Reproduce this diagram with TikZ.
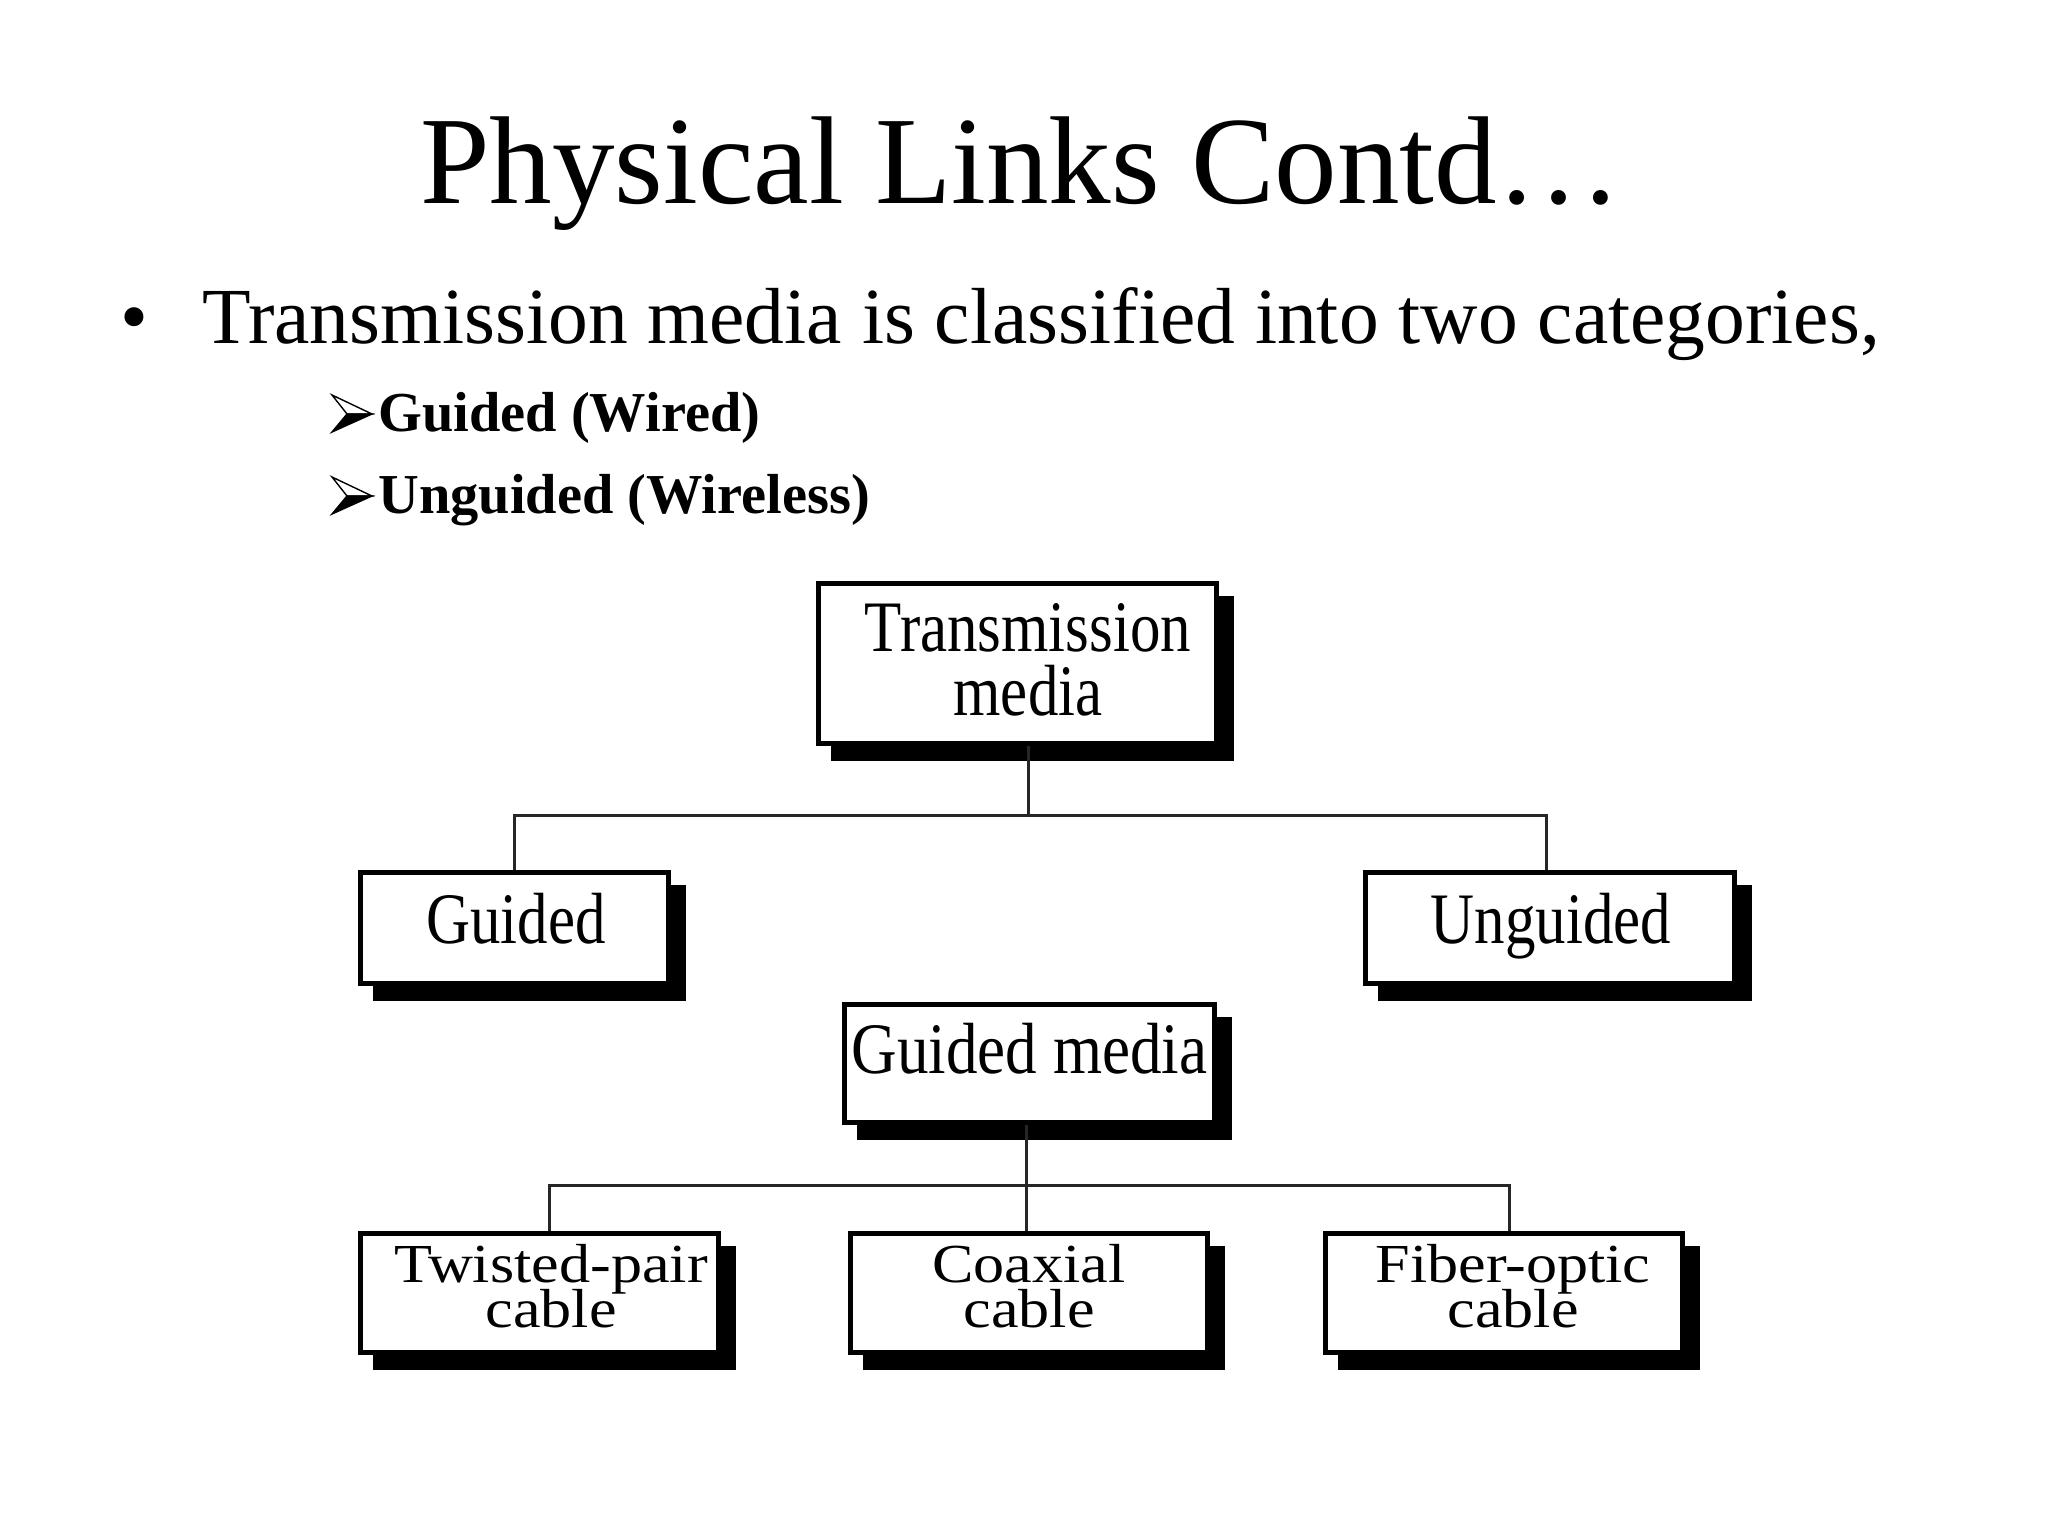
\documentclass[tikz,border=0pt]{standalone}
\usepackage{fontspec}
\setmainfont{Liberation Serif}
\newfontfamily\boxA[FakeStretch=0.84]{Liberation Serif}
\newfontfamily\boxG[FakeStretch=0.87]{Liberation Serif}
\newfontfamily\boxB[FakeStretch=1.13]{Liberation Serif}
\usetikzlibrary{shadows}
\begin{document}
\lineskiplimit=-1000pt\relax
\lineskip=0pt\relax
\begin{tikzpicture}[x=0.5pt,y=-0.5pt,
  box/.style={draw=black, fill=white, line width=2.7pt, inner sep=0pt,
    general shadow={fill=black, draw=black, line width=2.7pt, shadow xshift=7.5pt, shadow yshift=-7.5pt}},
  conn/.style={line width=1.5pt, draw=black!85},
  lbl/.style={inner sep=0pt, align=center},
  topfont/.style={font=\boxA\fontsize{36.25pt}{32pt}\selectfont},
  botfont/.style={font=\boxB\fontsize{27.5pt}{22.5pt}\selectfont},
  arrowup/.style={fill=white, draw=black, line width=0.7pt, line join=miter},
  arrowdn/.style={fill=black, draw=black, line width=0.7pt, line join=miter}]
\path[use as bounding box, fill=white] (0,0) rectangle (2048,1536);

% title and bullets
\node[inner sep=0pt, anchor=base, font=\fontsize{62.5pt}{70pt}\selectfont] (title) at (1021,203) {Physical Links Contd\ldots};
\node[inner sep=0pt, anchor=base west, font=\fontsize{39.75pt}{44pt}\selectfont] (dot) at (120,343) {\textbullet};
\node[inner sep=0pt, anchor=base west, font=\fontsize{39.75pt}{44pt}\selectfont] (intro) at (202,343) {Transmission media is classified into two categories,};
\node[inner sep=0pt, anchor=base west, font=\bfseries\fontsize{28.2pt}{32pt}\selectfont] (wired) at (378,431) {Guided (Wired)};
\node[inner sep=0pt, anchor=base west, font=\bfseries\fontsize{28.2pt}{32pt}\selectfont] (wireless) at (378,513) {Unguided (Wireless)};
\draw[arrowup] (332,395) -- (372,414) -- (347,414) -- cycle;
\draw[arrowdn] (347,414) -- (372,414) -- (332,432) -- cycle;
\draw[arrowup] (332,477) -- (372,496) -- (347,496) -- cycle;
\draw[arrowdn] (347,496) -- (372,496) -- (332,514) -- cycle;

% boxes
\node[box, minimum width=198.8pt, minimum height=79.8pt] (tm) at (1017.5,663.5) {};
\node[lbl, topfont] (tmt) at (1028,660.3) {Transmission\\media};

\node[box, minimum width=153.8pt, minimum height=55.3pt] (guided) at (514.5,928) {};
\node[lbl, topfont, anchor=base] (guidedt) at (516,943) {Guided};

\node[box, minimum width=184.3pt, minimum height=55.3pt] (unguided) at (1550,928) {};
\node[lbl, topfont, anchor=base] (unguidedt) at (1551,943) {Unguided};

\node[box, minimum width=184.8pt, minimum height=58.8pt] (gm) at (1029.5,1063.5) {};
\node[lbl, font=\boxG\fontsize{36.25pt}{32pt}\selectfont, anchor=base] (gmt) at (1029.5,1073) {Guided media};

\node[box, minimum width=178.8pt, minimum height=59.3pt] (tp) at (539.5,1293) {};
\node[lbl, botfont] (tpt) at (551,1285.7) {Twisted-pair\\cable};

\node[box, minimum width=178.3pt, minimum height=59.3pt] (coax) at (1029,1293) {};
\node[lbl, botfont] (coaxt) at (1029,1285.7) {Coaxial\\cable};

\node[box, minimum width=178.3pt, minimum height=59.3pt] (fiber) at (1504,1293) {};
\node[lbl, botfont] (fibert) at (1513,1285.7) {Fiber-optic\\cable};

% connectors
\coordinate (j1) at (1028,815);
\draw[conn] (tm.south -| j1) -- (j1);
\draw[conn] (guided.north) |- (j1) -| ([xshift=-2pt]unguided.north);
\coordinate (j2) at (1026,1185);
\draw[conn] (gm.south -| j2) -- (coax.north -| j2);
\draw[conn] ([xshift=4.75pt]tp.north) |- (j2) -| ([xshift=2.5pt]fiber.north);
\end{tikzpicture}
\end{document}
